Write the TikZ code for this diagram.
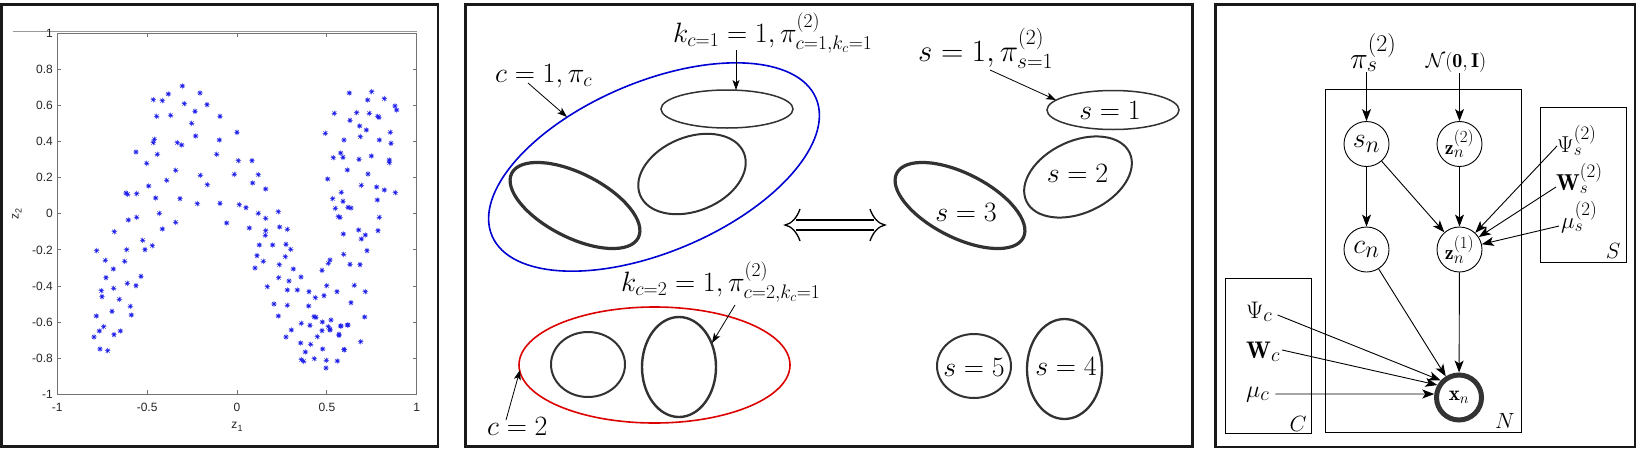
\RequirePackage{fix-cm}
\documentclass[tikz,border=0pt]{standalone}
\usepackage{amsmath}
\usepackage{fontspec}
\newfontfamily\axfont{Liberation Sans}
\usetikzlibrary{arrows.meta,calc}
\definecolor{ebl}{RGB}{0,0,210}
\definecolor{ered}{RGB}{220,0,0}
\definecolor{egr}{RGB}{50,50,50}
\definecolor{ptc}{RGB}{30,30,235}
\newcommand{\Rs}[2]{\mbox{\fontsize{#1}{#1}\selectfont$#2$}}
\pgfdeclareplotmark{mstar}{%
  \pgfpathmoveto{\pgfqpoint{-\pgfplotmarksize}{0pt}}%
  \pgfpathlineto{\pgfqpoint{\pgfplotmarksize}{0pt}}%
  \pgfpathmoveto{\pgfqpoint{0pt}{-\pgfplotmarksize}}%
  \pgfpathlineto{\pgfqpoint{0pt}{\pgfplotmarksize}}%
  \pgfpathmoveto{\pgfqpoint{-0.707\pgfplotmarksize}{-0.707\pgfplotmarksize}}%
  \pgfpathlineto{\pgfqpoint{0.707\pgfplotmarksize}{0.707\pgfplotmarksize}}%
  \pgfpathmoveto{\pgfqpoint{-0.707\pgfplotmarksize}{0.707\pgfplotmarksize}}%
  \pgfpathlineto{\pgfqpoint{0.707\pgfplotmarksize}{-0.707\pgfplotmarksize}}%
  \pgfusepathqstroke}
\begin{document}
\begin{tikzpicture}[x=1pt,y=-1pt,
  panel/.style={draw=black!90,line width=2.4pt},
  axl/.style={font=\axfont\fontsize{12}{14}\selectfont, text=black!85, inner sep=0pt},
  axline/.style={draw=black!55, line width=0.9pt},
  mlbl/.style={font=\fontsize{28}{32}\selectfont, inner sep=0pt},
  marr/.style={-{Stealth[length=10pt,width=7pt,inset=2.5pt]}, line width=0.8pt},
  arr/.style={-{Stealth[length=12pt,width=9pt,inset=3pt]}, line width=0.9pt},
  gm/.style={circle, draw, line width=0.9pt, minimum size=45pt, inner sep=0pt, font=\fontsize{28}{32}\selectfont},
  platebox/.style={draw, line width=0.9pt},
  plbl/.style={font=\fontsize{22}{26}\selectfont, inner sep=0pt},
  slab/.style={font=\fontsize{23}{26}\selectfont, inner sep=0pt},
  clab/.style={font=\fontsize{24}{28}\selectfont, inner sep=0pt},
  dbl/.style={line width=1.3pt, black}]
\useasboundingbox (0,0) rectangle (1638,450);
\fill[white] (0,0) rectangle (1638,450);

%================ LEFT PANEL ================
\draw[panel] (1.5,4.5) rectangle (438,446.5);
\draw[black!40, line width=0.8pt] (13,31.7) -- (417,31.7);
\draw[axline] (57.3,33.3) rectangle (416.7,394.3);
\foreach \i in {0,...,4}{
  \draw[axline] ({57.3+\i*89.85},394.3) -- ++(0,-4) ({57.3+\i*89.85},33.3) -- ++(0,4);
}
\foreach \j in {0,...,10}{
  \draw[axline] (57.3,{33.3+\j*36.1}) -- ++(4,0) (416.7,{33.3+\j*36.1}) -- ++(-4,0);
}
\foreach \v [count=\i from 0] in {-1,-0.5,0,0.5,1}
  \node[axl] (xt\i) at ({57.3+\i*89.85},407) {\v};
\foreach \v [count=\j from 0] in {1,0.8,0.6,0.4,0.2,0,-0.2,-0.4,-0.6,-0.8,-1}
  \node[axl,anchor=east] (yt\j) at (53,{33.3+\j*36.1}) {\v};
\node[axl] (zla) at (237,427) {z\raisebox{-3pt}{\fontsize{9}{9}\selectfont 1}};
\node[axl,rotate=90] (zlb) at (17,214) {z\raisebox{-3pt}{\fontsize{9}{9}\selectfont 2}};

\begin{scope}[x=0.33333pt,y=-0.33333pt]
\draw[ptc, line width=0.6pt] plot[only marks, mark=mstar, mark size=2.7pt] coordinates {
(547,258) (600,279) (460,299) (487,302) (505,282) (553,311) (621,314) (470,349) (512,346) (585,334)
(660,349) (575,370) (463,418) (460,428) (587,408) (532,428) (545,435) (658,420) (408,456) (472,463)
(650,463) (440,490) (527,511) (500,541) (601,526) (622,554) (446,558) (378,579) (383,583) (410,581)
(467,594) (540,596) (592,611) (660,610) (478,640) (385,660) (410,652) (527,667) (487,687) (680,669)
(343,695) (428,721) (435,749) (457,737) (380,749) (290,752) (316,781) (374,784) (340,807) (318,833)
(423,829) (382,850) (408,857) (304,872) (341,865) (306,890) (358,898) (391,919) (336,934) (394,945)
(289,948) (311,980) (298,993) (282,1011) (361,993) (342,1004) (300,1047) (323,1052)
(711,397) (715,482) (756,482) (703,523) (775,524) (758,549) (797,567) (718,614) (738,623) (775,640)
(797,655) (835,635) (748,684) (839,681) (862,688) (797,692) (796,706) (778,735) (818,735) (858,733)
(872,748) (771,767) (790,784) (838,794) (856,770) (765,804) (802,860) (836,833) (867,843) (880,807)
(903,831) (862,870) (892,870) (822,912) (862,916) (835,948) (927,875) (946,893) (926,918) (874,990)
(858,1011) (904,970) (930,976) (942,950) (948,952) (902,1029) (932,1033) (916,1056) (904,1079) (911,1084)
(943,1076) (952,1010) (978,1104) (979,1081) (968,1047) (966,992) (967,966) (990,990) (993,960) (985,980)
(1012,1083) (1017,1003) (1033,1049) (1022,978) (1044,975)
(1048,279) (1115,275) (1153,296) (1103,300) (1185,318) (1190,330) (1003,340) (1070,338) (1108,340) (1133,349)
(1137,352) (1050,361) (1079,378) (1099,390) (976,400) (1032,420) (1081,410) (1138,420) (1171,397) (1173,430)
(1022,459) (1000,473) (1029,472) (1077,478) (1114,468) (1042,510) (983,537) (1104,522) (1168,480) (1168,488)
(1024,577) (1084,556) (1130,561) (1153,570) (1186,578) (998,596) (1029,604) (1132,600) (1006,625) (1044,622)
(1053,624) (1015,650) (1020,652) (1138,652) (1076,690) (1134,692) (1096,705) (1084,717) (1030,702) (1031,763)
(1101,752) (990,780) (985,790) (1050,793) (1080,794) (966,811) (1063,856) (980,857) (1011,875) (1096,875)
(972,887) (1053,908) (1094,951) (1023,978) (1042,975) (990,988) (1017,1006) (1032,1049) (1082,1025)
};
\end{scope}

%================ MIDDLE PANEL ================
\draw[panel] (465.5,4.5) rectangle (1192.5,446.5);
% cluster c=1
\draw[ebl, line width=1.6pt, rotate around={23:(654,167)}] (654,167) ellipse [x radius=176, y radius=85];
\draw[egr, line width=1.5pt] (727,109) ellipse [x radius=66, y radius=19];
\draw[egr, line width=2pt, rotate around={22:(692,174)}] (692,174) ellipse [x radius=56, y radius=37];
\draw[egr, line width=3.2pt, rotate around={-27:(575,205.5)}] (575,205.5) ellipse [x radius=71, y radius=32];
% cluster c=2
\draw[ered, line width=1.6pt] (654.5,365) ellipse [x radius=135.5, y radius=58];
\draw[egr, line width=2pt] (588,364.5) ellipse [x radius=37, y radius=32.5];
\draw[egr, line width=2.4pt] (679,367) ellipse [x radius=37, y radius=50];
% s ellipses
\draw[egr, line width=1.5pt] (1113,110) ellipse [x radius=66, y radius=19.5];
\draw[egr, line width=2pt, rotate around={25:(1078,177)}] (1078,177) ellipse [x radius=57, y radius=36];
\draw[egr, line width=3.2pt, rotate around={-27:(960,205.5)}] (960,205.5) ellipse [x radius=71, y radius=32];
\draw[egr, line width=2.3pt] (1064.5,369) ellipse [x radius=37.5, y radius=50];
\draw[egr, line width=2pt] (974,366) ellipse [x radius=37, y radius=32];

\node[mlbl] (sa) at (1110,110) {$s=1$};
\node[mlbl] (sb) at (1077.5,173) {$s=2$};
\node[mlbl] (sc) at (966,212) {$s=3$};
\node[mlbl] (sd) at (1066,366) {$s=4$};
\node[mlbl] (se) at (974,367) {$s=5$};

\node[mlbl, anchor=base west] (c1lbl) at (495,82) {$c=1,\pi_c$};
\node[mlbl, anchor=base west] (k1lbl) at (673,42) {$k_{c=1}=1,\pi^{(2)}_{c=1,k_c=1}$};
\node[mlbl, font=\fontsize{31}{34}\selectfont, anchor=base west] (s1lbl) at (918,61) {$s=1,\pi^{(2)}_{s=1}$};
\node[mlbl, anchor=base west] (k2lbl) at (621,291) {$k_{c=2}=1,\pi^{(2)}_{c=2,k_c=1}$};
\node[mlbl, anchor=base west] (c2lbl) at (487,435) {$c=2$};

\coordinate (c1tip) at (567,117);
\coordinate (k1tip) at (736,90);
\coordinate (s1tip) at (1056,100);
\coordinate (k2tip) at (712,343);
\coordinate (c2tip) at (520,370);
\draw[marr] ([xshift=33pt,yshift=-1pt]c1lbl.base west) -- (c1tip);
\draw[marr] ([xshift=63pt,yshift=-8pt]k1lbl.base west) -- (k1tip);
\draw[marr] ([xshift=72pt,yshift=-9pt]s1lbl.base west) -- (s1tip);
\draw[marr] ([xshift=114pt,yshift=-14pt]k2lbl.base west) -- (k2tip);
\draw[marr] ([xshift=19pt,yshift=15pt]c2lbl.base west) -- (c2tip);

% double arrow
\coordinate (dl) at (785,225);
\coordinate (dr) at (885,225);
\draw[dbl] ($(dl)+(11,-5)$) -- ($(dr)+(-11,-5)$);
\draw[dbl] ($(dl)+(11,5)$) -- ($(dr)+(-11,5)$);
\draw[dbl] ($(dl)+(15,-16)$) .. controls ($(dl)+(12,-7)$) and ($(dl)+(6,-1)$) .. (dl)
           .. controls ($(dl)+(6,1)$) and ($(dl)+(12,7)$) .. ($(dl)+(15,16)$);
\draw[dbl] ($(dr)+(-15,-16)$) .. controls ($(dr)+(-12,-7)$) and ($(dr)+(-6,-1)$) .. (dr)
           .. controls ($(dr)+(-6,1)$) and ($(dr)+(-12,7)$) .. ($(dr)+(-15,16)$);

%================ RIGHT PANEL ================
\draw[panel] (1215.5,4.5) rectangle (1635,447);
\draw[platebox] (1325,89) rectangle (1521,432);
\draw[platebox] (1540,107) rectangle (1626,262);
\draw[platebox] (1225,278) rectangle (1311,433);
\node[plbl] (pN) at (1505,421) {$N$};
\node[plbl] (pS) at (1613,251) {$S$};
\node[plbl] (pC) at (1298,424) {$C$};

\node[gm] (sn) at (1366.5,144) {$s_{\Rs{24}{n}}$};
\node[gm, font=\fontsize{20}{24}\selectfont] (zz2) at (1459.5,144) {$\mathbf{z}_{\Rs{17}{n}}^{\Rs{17}{(2)}}$};
\node[gm] (cn) at (1366.5,249.5) {$c_{\Rs{24}{n}}$};
\node[gm, font=\fontsize{20}{24}\selectfont] (zz1) at (1459.5,249.5) {$\mathbf{z}_{\Rs{17}{n}}^{\Rs{17}{(1)}}$};
\node[gm, line width=5pt, draw=black!80, font=\fontsize{21}{24}\selectfont] (xn) at (1459,397.5) {$\mathbf{x}_{\Rs{15}{n}}$};

\node[font=\fontsize{30}{34}\selectfont, inner sep=1pt, anchor=base west] (pis) at (1349,68) {$\pi_{\Rs{22}{s}}^{\Rs{24}{(2)}}$};
\node[font=\fontsize{20}{24}\selectfont, inner sep=1pt] (nlbl) at (1456,62) {$\mathcal{N}(\mathbf{0},\mathbf{I})$};

\node[slab, anchor=base west] (psis) at (1557,152) {$\Psi_{\Rs{17}{s}}^{\Rs{19}{(2)}}$};
\node[slab, anchor=base west] (wss) at (1556,190) {$\mathbf{W}_{\Rs{17}{s}}^{\Rs{19}{(2)}}$};
\node[slab, anchor=base west] (mus) at (1561,228) {$\mu_{\Rs{17}{s}}^{\Rs{19}{(2)}}$};

\node[clab, anchor=base west] (psic) at (1246,318) {$\Psi_{\Rs{20}{c}}$};
\node[clab, anchor=base west] (wc) at (1246,358) {$\mathbf{W}_{\Rs{20}{c}}$};
\node[clab, anchor=base west] (muc) at (1246,397) {$\mu_{\Rs{20}{c}}$};

\draw[arr] (pis.south -| sn) -- (sn);
\draw[arr] (nlbl.south -| zz2) -- (zz2);
\draw[arr] (sn) -- (cn);
\draw[arr] (sn) -- (zz1);
\draw[arr] (zz2) -- (zz1);
\draw[arr] (cn) -- (xn);
\draw[arr] (zz1) -- (xn);
\draw[arr] ([yshift=6pt]psis.base west) -- (zz1);
\draw[arr] ([yshift=3pt]wss.base west) -- (zz1);
\draw[arr] ([xshift=-2pt,yshift=2pt]mus.base west) -- (zz1);
\draw[arr] ([xshift=5pt,yshift=3pt]psic.base east) -- (xn.137);
\draw[arr] ([xshift=2pt,yshift=8pt]wc.base east) -- (xn.150);
\draw[arr] ([xshift=6pt,yshift=3pt]muc.base east) -- (xn.172);
\end{tikzpicture}
\end{document}
